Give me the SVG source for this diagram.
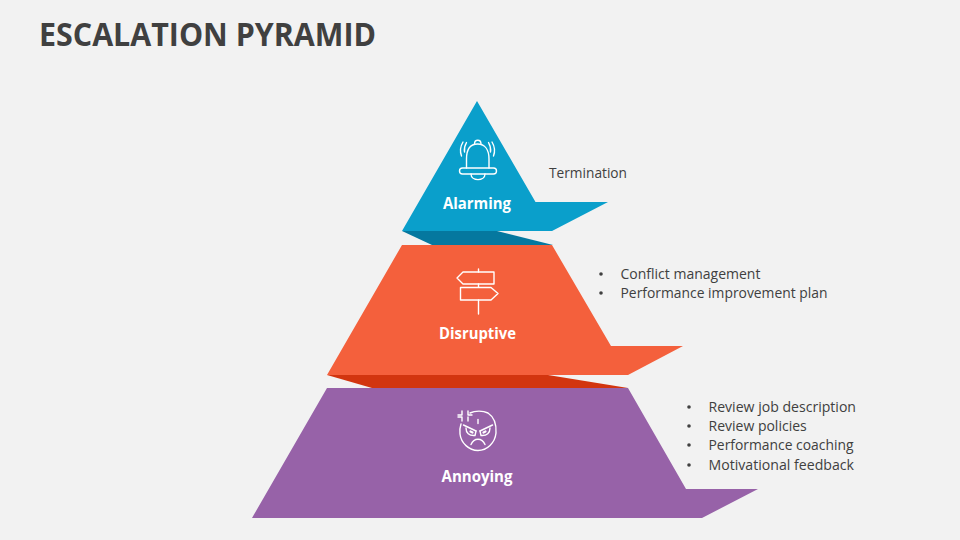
<svg xmlns="http://www.w3.org/2000/svg" width="960" height="540" viewBox="0 0 960 540">
<style>
text{font-family:"Open Sans","Noto Sans","Liberation Sans",sans-serif}
.title{font-size:32px;font-weight:700;fill:#404040}
.lab{font-size:16px;font-weight:700;fill:#fff;text-anchor:middle}
.txt{font-size:14px;fill:#404040}
.ic{fill:none;stroke:#fff;stroke-width:1.4;stroke-linejoin:round;stroke-linecap:round}
.dot{fill:#404040}
</style>
<rect width="960" height="540" fill="#f2f2f2"/>
<text class="title" x="39" y="46" textLength="337" lengthAdjust="spacingAndGlyphs">ESCALATION PYRAMID</text>
<g id="connectors">
<polygon points="402,231 497,231 553,245 432,245" fill="#05789f"/>
<polygon points="327,375 548,375 628,388 372,388" fill="#d2350f"/>
</g>
<g id="alarming">
<polygon points="477,101 535.5,202 608,202 552,231 402,231" fill="#0a9fcb"/>
<g class="ic">
<path d="M466.500,168V159C466.500,150 470,144 477.500,144C485,144 489,150 489,159V168"/>
<path d="M474.500,144C474.500,139 481,139 481,144"/>
<rect x="459.500" y="168" width="37" height="6" rx="3"/>
<path d="M471,174C471,181.500 485,181.500 485,174"/>
<path d="M463,142C460,147 460,152 461.500,156M466.500,142.500C464.500,146 464,149 464.500,152M492,142C495,147 495,152 493.500,156M488.500,142.500C490.500,146 491,149 490.500,152"/>
</g>
<text class="lab" x="477" y="208.500" textLength="68" lengthAdjust="spacingAndGlyphs">Alarming</text>
</g>
<g id="disruptive">
<polygon points="402,245 552,245 611,346 683,346 628,375 327,375" fill="#f4603c"/>
<g class="ic">
<path d="M478.500,269V272M478.500,284V287M478.500,300V314"/>
<path d="M463,272H494V284H463L457,278Z"/>
<path d="M460.500,287.500H491L498,293.500L491,300H460.500Z"/>
</g>
<text class="lab" x="477.500" y="339" textLength="77" lengthAdjust="spacingAndGlyphs">Disruptive</text>
</g>
<g id="annoying">
<polygon points="327,388 628,388 686,489 758,489 702,518 252,518" fill="#9762a8"/>
<g class="ic">
<path d="M470,413C475,410.500 483,410.500 488,413C494,417 496.500,425 496,433C495,443 487,450.500 478,450.500C469,450.500 461,443 460,434C459.500,430 460,427 461,424"/>
<path d="M462,411V415H458M468,411V415H472M462,421V417H458M468,421V417"/>
<path d="M478,419.500V423.500"/>
<path d="M463.500,425L476,431M492.500,425L480,431"/>
<path d="M466,428C466,433 469,436 475,435.500L476,431M490,428C490,433 487,436 481,435.500L480,431"/>
<path d="M470.500,431.500L472.500,432.500M485.500,431.500L483.500,432.500" stroke-width="2.200"/>
<path d="M471,444.500C474,437.500 482,437.500 485,444.500"/>
</g>
<text class="lab" x="477" y="482" textLength="71" lengthAdjust="spacingAndGlyphs">Annoying</text>
</g>
<g id="text-alarming"><text class="txt" x="549" y="178" textLength="78" lengthAdjust="spacingAndGlyphs">Termination</text></g>
<g id="text-disruptive">
<circle class="dot" cx="601" cy="274" r="1.800"/><text class="txt" x="620.500" y="279">Conflict management</text>
<circle class="dot" cx="601" cy="293" r="1.800"/><text class="txt" x="620.500" y="298" textLength="207" lengthAdjust="spacingAndGlyphs">Performance improvement plan</text>
</g>
<g id="text-annoying">
<circle class="dot" cx="689" cy="407" r="1.800"/><text class="txt" x="708.500" y="412" textLength="147.500" lengthAdjust="spacingAndGlyphs">Review job description</text>
<circle class="dot" cx="689" cy="426" r="1.800"/><text class="txt" x="708.500" y="431">Review policies</text>
<circle class="dot" cx="689" cy="445" r="1.800"/><text class="txt" x="708.500" y="450" textLength="145" lengthAdjust="spacingAndGlyphs">Performance coaching</text>
<circle class="dot" cx="689" cy="465" r="1.800"/><text class="txt" x="708.500" y="470" textLength="145.500" lengthAdjust="spacingAndGlyphs">Motivational feedback</text>
</g>
</svg>
